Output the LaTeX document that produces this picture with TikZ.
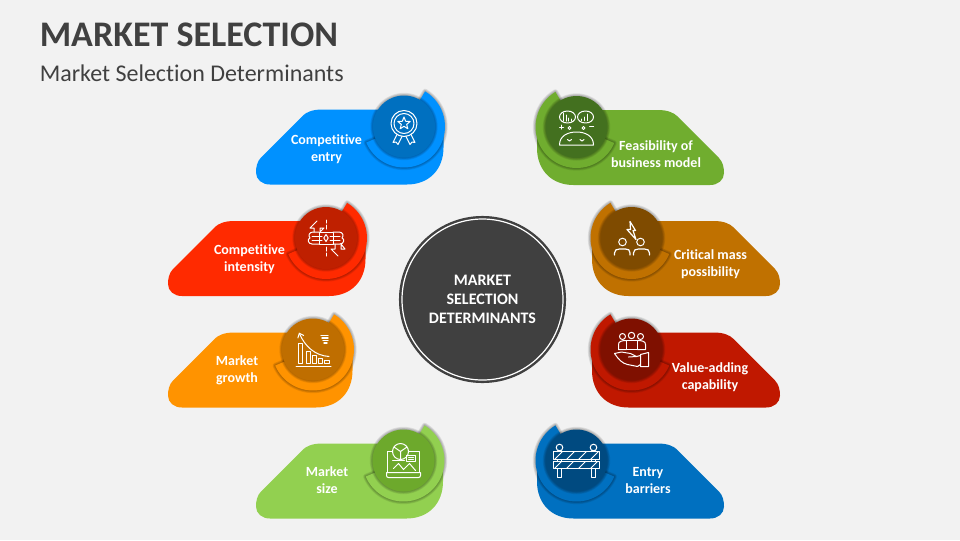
\documentclass[tikz,border=0pt]{standalone}
\usepackage{xcolor}
\usepackage{fontspec}
\setmainfont[Ligatures=NoCommon]{Carlito}
\usetikzlibrary{arrows.meta}

\definecolor{pagegray}{HTML}{F2F2F2}
\definecolor{inkgray}{HTML}{404040}
\definecolor{entryblue}{HTML}{0091FF}
\definecolor{entrydark}{HTML}{0070C0}
\definecolor{feasgreen}{HTML}{70AD2F}
\definecolor{feasdark}{HTML}{43701F}
\definecolor{intenred}{HTML}{FF2A00}
\definecolor{intendark}{HTML}{BF2000}
\definecolor{critbrown}{HTML}{C07100}
\definecolor{critdark}{HTML}{7F4B00}
\definecolor{growthor}{HTML}{FF9300}
\definecolor{growthdark}{HTML}{BF6E00}
\definecolor{valuered}{HTML}{C01800}
\definecolor{valuedark}{HTML}{7F1000}
\definecolor{sizegreen}{HTML}{92D050}
\definecolor{sizedark}{HTML}{6DA92C}
\definecolor{barrierblue}{HTML}{0070C0}
\definecolor{barrierdark}{HTML}{004A80}

\tikzset{
    blobtext/.style={text=white, align=center, inner sep=0pt, font=\fontsize{10.5}{12.75}\selectfont\bfseries},
    iconline/.style={draw=white, line width=0.75pt, line cap=round, line join=round},
    softshade/.style={draw=black, fill=none, opacity=0.08, line join=round}
}

% one badge: centre x, centre y, side (1 or -1), length, colour, dark colour
\newcommand{\badge}[6]{
    \begin{scope}[shift={(#1,#2)}, xscale=#3]
        \fill[#5] (-#4+66,-17) .. controls (-#4+56,-17) and (-#4+50,-14) .. (-#4+47,-11)
            -- (-#4+5,31) .. controls (-#4+1,35) and (-#4,41) .. (-#4,46)
            .. controls (-#4,53) and (-#4+6,58) .. (-#4+14,58)
            -- (3,58) .. controls (25,58) and (39.5,43) .. (39.5,21)
            -- (39.5,0) -- (25,-17) -- cycle;
        \foreach \w in {4,3,2,1}
            \draw[softshade, line width=\w pt] (-59:41) arc (-59:157:41) -- (157:30) arc (157:-59:30) -- cycle;
        \fill[#5] (-59:41) arc (-59:157:41) -- (157:30) arc (157:-59:30) -- cycle;
        \foreach \w in {4,3,2,1}
            \draw[softshade, line width=\w pt] (0,0) circle (31);
        \fill[#6] (0,0) circle (31);
    \end{scope}
}

\begin{document}
\begin{tikzpicture}
    \tikzset{x={(0.75pt, 0pt)}, y={(0pt, -0.75pt)}}
    \useasboundingbox (0,0) rectangle (960,540);
    \fill[pagegray] (0,0) rectangle (960,540);

    \node[anchor=base west, inner sep=0pt, text=inkgray, font=\fontsize{27}{30}\selectfont\bfseries] (title) at (39.5,46) {MARKET SELECTION};
    \node[anchor=base west, inner sep=0pt, text=inkgray, font=\fontsize{18}{21}\selectfont] (subtitle) at (39.5,81) {Market Selection Determinants};

    % badges on the left
    \badge{404}{126.5}{1}{148}{entryblue}{entrydark}
    \badge{326}{238}{1}{158}{intenred}{intendark}
    \badge{313}{349.5}{1}{145}{growthor}{growthdark}
    \badge{403.5}{460.5}{1}{147.5}{sizegreen}{sizedark}
    % badges on the right
    \badge{576.5}{127}{-1}{147.5}{feasgreen}{feasdark}
    \badge{631.5}{238}{-1}{148.5}{critbrown}{critdark}
    \badge{631.5}{349.5}{-1}{148.5}{valuered}{valuedark}
    \badge{576.5}{460.5}{-1}{147.5}{barrierblue}{barrierdark}

    \node[blobtext] (entrytext) at (326.5,149.5) {Competitive\\entry};
    \node[blobtext] (intentext) at (249.5,259) {Competitive\\intensity};
    \node[blobtext] (growthtext) at (237,370) {Market\\growth};
    \node[blobtext] (sizetext) at (327,480.5) {Market\\size};
    \node[blobtext] (feastext) at (656,154) {Feasibility of\\business model};
    \node[blobtext] (crittext) at (710.5,264.5) {Critical mass\\possibility};
    \node[blobtext] (valuetext) at (710,377) {Value-adding\\capability};
    \node[blobtext] (barriertext) at (648,480.5) {Entry\\barriers};

    % centre
    \node[circle, fill=inkgray, draw=inkgray, line width=0.8pt, minimum size=124.5pt, inner sep=0pt] (hub) at (482.5,299.5) {};
    \draw[white, line width=0.9pt] (hub.center) circle (80.5);
    \node[text=white, align=center, inner sep=0pt, font=\fontsize{12}{14.2}\selectfont\bfseries] (hubtext) at (482.5,299) {MARKET\\SELECTION\\DETERMINANTS};

    % rosette
    \begin{scope}[shift={(404,126.5)}, iconline]
        \draw (0,-3) circle (13);
        \draw (0,-3) circle (10);
        \draw[shift={(0,-3)}] (-90:6.5) -- (-54:2.8) -- (-18:6.5) -- (18:2.8) -- (54:6.5) -- (90:2.8) -- (126:6.5) -- (162:2.8) -- (198:6.5) -- (234:2.8) -- cycle;
        \draw (-7,8) -- (-11,16) -- (-8,15.5) -- (-6,18) -- (-2,10);
        \draw (7,8) -- (11,16) -- (8,15.5) -- (6,18) -- (2,10);
    \end{scope}
    % two thought clouds over a dome
    \begin{scope}[shift={(576.5,127)}, iconline]
        \draw (-9,-10) ellipse (8 and 6);
        \draw (9,-10) ellipse (8 and 6);
        \draw (-13,-14) -- (-13,-6) (-10.5,-12) -- (-10.5,-6) (-8,-9) -- (-8,-6) (-5.5,-8) -- (-5.5,-6);
        \draw (5,-6.5) -- (5,-8) (8,-6.5) -- (8,-10) (11,-6.5) -- (11,-13);
        \draw (-7,1) circle (1.5);
        \draw (7,1) circle (1.5);
        \draw (-17,0) -- (-13,0) (-15,-2) -- (-15,2) (13,-1) -- (17,-1);
        \draw (-17,18) .. controls (-17,9) and (-9,5) .. (0,5) .. controls (9,5) and (17,9) .. (17,18) -- cycle;
        \draw (-9,12.5) .. controls (-8,14.5) and (-6,14.5) .. (-5,12.5);
        \draw (3.5,12.5) .. controls (4.5,14.5) and (6.5,14.5) .. (7.5,12.5);
    \end{scope}
    % hands, coin and arrows
    \begin{scope}[shift={(326,238)}, iconline]
        \draw (-9,-17) -- (-16,-10) -- (-12,-10) -- (-12,-6) (-6,-6) -- (-6,-10) -- (-2,-10) -- cycle;
        \draw (12,18) -- (5,11) -- (9,11) -- (9,6) (15,6) -- (15,11) -- (19,11) -- cycle;
        \draw (0.5,-18) -- (0.5,-15) (0.5,-13) -- (0.5,-9) (0.5,9) -- (0.5,13) (0.5,15) -- (0.5,18);
        \draw (-7,-6) rectangle (7,6);
        \draw (0,-3.5) -- (2.2,0) -- (0,3.5) -- (-2.2,0) -- cycle;
        \draw (-7,-6) -- (-13,-6) .. controls (-17,-6) and (-18,-2) .. (-16,0) .. controls (-19,1) and (-18,6) .. (-14,6) -- (-7,6);
        \draw (7,-6) -- (13,-6) .. controls (17,-6) and (18,-2) .. (16,0) .. controls (19,1) and (18,6) .. (14,6) -- (7,6);
        \draw (-14,-1.5) -- (-4,-1.5) (-14,2) -- (-4,2) (14,-1.5) -- (4,-1.5) (14,2) -- (4,2);
    \end{scope}
    % bolt over two people
    \begin{scope}[shift={(631.5,238)}, iconline]
        \draw[line width=0.9pt] (-1.5,-16.5) -- (4,-7.5) -- (1.5,-7.5) -- (4.5,1.5) -- (-4.5,-8.5) -- (-1,-8.5) -- cycle;
        \draw (-9,4) circle (3.8);
        \draw (9,4) circle (3.8);
        \draw[line width=0.9pt] (-17,17) -- (-17,15) .. controls (-17,12) and (-15,11) .. (-12,11) -- (-6,11) .. controls (-3,11) and (-1.5,12) .. (-1.5,15) -- (-1.5,17);
        \draw[line width=0.9pt] (2,17) -- (2,15) .. controls (2,12) and (4,11) .. (7,11) -- (13,11) .. controls (16,11) and (18,12) .. (18,15) -- (18,17);
    \end{scope}
    % growth chart
    \begin{scope}[shift={(313,349.5)}, iconline]
        \draw (-17,17) -- (18,17);
        \draw (-15,14) rectangle (-11,-6);
        \draw (-7,14) rectangle (-3,1.5);
        \draw (-1,14) rectangle (3,5.5);
        \draw (5,14) rectangle (9,9);
        \draw (11.5,14) rectangle (16,10.5);
        \draw[-{Straight Barb[length=3pt,width=5pt]}] (16,7) .. controls (2,6) and (-8,-3) .. (-14,-17);
        \draw[line width=1.1pt] (8,-14) -- (15,-14) (9,-11.5) -- (15,-11.5) (10,-9) -- (15,-9) (11,-6.5) -- (14,-6.5);
    \end{scope}
    % people over a hand
    \begin{scope}[shift={(631.5,349.5)}, iconline]
        \draw (-9,-13) circle (3);
        \draw (0,-14) circle (3.2);
        \draw (9,-13) circle (3);
        \draw (-5,0) rectangle (6,-9);
        \draw (-5,0) -- (-13,0) -- (-13,-5) .. controls (-13,-8) and (-10,-9) .. (-5,-9);
        \draw (6,0) -- (14,0) -- (14,-5) .. controls (14,-8) and (11,-9) .. (6,-9);
        \draw (-17,4) -- (-10,2.5) -- (-1,4) -- (5,7) -- (-3,7.5);
        \draw (-17,4) .. controls (-13,10) and (-9,14) .. (-4,15) -- (6,17) -- (9,15);
        \draw (5,7) -- (9,6);
        \draw (9,5) -- (17,3) -- (17,17) -- (9,17) -- cycle;
    \end{scope}
    % laptop with charts
    \begin{scope}[shift={(403.5,460.5)}, iconline]
        \draw (-11,-9) -- (-16,-9) -- (-16,12) -- (16,12) -- (16,-9) -- (5,-9);
        \draw (-17,12) -- (17,12) -- (17,15) .. controls (17,16.5) and (16,17) .. (15,17) -- (-15,17) .. controls (-16,17) and (-17,16.5) .. (-17,15) -- cycle;
        \draw (-3,-9) circle (8);
        \draw (-3,-9) -- (-3,-1) (-3,-9) -- (-9.5,-13.5) (-3,-9) -- (3.5,-13.5);
        \draw (3,-5) rectangle (12,1);
        \draw (5,-3) -- (10,-3) (5,-1) -- (10,-1);
        \draw (-11,-0.5) -- (1,-0.5);
        \draw (-10,8) -- (-5,3) -- (0,9) -- (6,3) -- (12,10);
    \end{scope}
    % road barrier
    \begin{scope}[shift={(576.5,460.5)}, iconline]
        \draw (-23,-9) rectangle (23,-1);
        \draw (-23,1) rectangle (23,8);
        \draw (-17,-13) circle (3.3);
        \draw (17,-13) circle (3.3);
        \draw (-19,-9.8) -- (-19,-9) (-15,-9.8) -- (-15,-9) (15,-9.8) -- (15,-9) (19,-9.8) -- (19,-9);
        \draw (-19,-1) -- (-19,1) (-15,-1) -- (-15,1) (15,-1) -- (15,1) (19,-1) -- (19,1);
        \draw (-19,8) -- (-19,17) -- (-15,17) -- (-15,8) (15,8) -- (15,17) -- (19,17) -- (19,8);
        \foreach \s in {-18,-6,6,18} {
            \draw (\s-4,-1) -- (\s+4,-9);
            \draw (\s-4,8) -- (\s+3,1);
        }
    \end{scope}
\end{tikzpicture}
\end{document}
